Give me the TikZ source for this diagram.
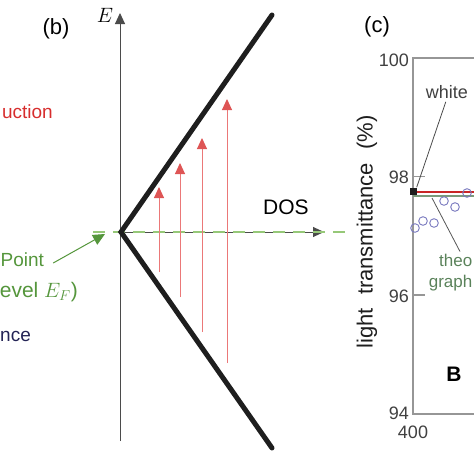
\documentclass[tikz,border=0pt]{standalone}
\usepackage{fontspec}
\setmainfont{Liberation Sans}
\usetikzlibrary{arrows.meta,positioning,calc}
\definecolor{ink}{RGB}{30,30,30}
\definecolor{cband}{RGB}{215,45,45}
\definecolor{vband}{RGB}{35,35,85}
\definecolor{fermiG}{RGB}{85,150,60}
\definecolor{fermiL}{RGB}{150,200,120}
\definecolor{exc}{RGB}{235,120,120}
\definecolor{excH}{RGB}{222,85,85}
\definecolor{frame}{RGB}{150,150,150}
\definecolor{theoG}{RGB}{90,130,90}
\definecolor{dotB}{RGB}{120,120,190}
\tikzset{
  lbl/.style={inner sep=0pt,font=\fontsize{19}{22}\selectfont},
  tick/.style={inner sep=0pt,anchor=east,text=ink!85,font=\fontsize{18}{20}\selectfont},
  cone/.style={line width=5pt,draw=ink,line cap=round},
  axis/.style={draw=ink!80,line width=0.9pt,-{Triangle[length=11pt,width=10pt]}},
  excite/.style={draw=exc,line width=1pt,-{Triangle[length=11pt,width=10pt,color=excH]}},
  fermi/.style={draw=fermiL,line width=1.6pt,dash pattern=on 12pt off 8pt},
  box/.style={draw=frame,line width=1.2pt},
}
\begin{document}
\begin{tikzpicture}[x=1pt,y=-1pt]
\useasboundingbox (0,0) rectangle (474,474);
% panel (b): Dirac cone
\coordinate (dirac) at (121,232);
\coordinate (cup) at (272,15);
\coordinate (cdn) at (272,448);
\coordinate (ebot) at (120,441);
\coordinate (etop) at (120,13);
\coordinate (dosend) at (324,232);
\coordinate (fl) at (93,232);
\coordinate (fr) at (350,232);
\draw[axis] (ebot) -- (etop);
\draw[axis] (dirac) -- (dosend);
\draw[fermi] (fl) -- (fr);
\draw[cone] (cup) -- (dirac) -- (cdn);
\foreach \i/\x/\lo/\hi in {1/159/272/187, 2/180/297/163, 3/202/332/138, 4/227/363/99}{
  \coordinate (lo\i) at (\x,\lo);
  \coordinate (hi\i) at (\x,\hi);
  \draw[excite] (lo\i) -- (hi\i);
}
\node[inner sep=0pt,font=\fontsize{20}{22}\selectfont] (elbl) at (105,15) {$E$};
\node[lbl,font=\fontsize{21}{24}\selectfont] (doslbl) at (286,207) {DOS};
\node[lbl,font=\fontsize{22}{24}\selectfont] (blbl) at (56,29) {(b)};
% cut-off band labels
\node[lbl,anchor=east,text=cband] (condlbl) at (53,112) {uction};
\node[lbl,anchor=west,text=fermiG] (ptlbl) at (0.5,260) {Point};
\node[lbl,anchor=east,text=fermiG,font=\fontsize{21}{22}\selectfont] (evlbl) at (78,292) {evel $E_F$)};
\node[lbl,anchor=west,text=vband] (vallbl) at (0,336) {nce};
\coordinate (ftip) at (105,234);
\draw[fermiG,line width=1pt,-{Triangle[length=12pt,width=11pt]}] ([xshift=9pt,yshift=-3pt]ptlbl.east) -- (ftip);
% panel (c): transmittance
\node[lbl,font=\fontsize{22}{24}\selectfont] (clbl) at (377,27) {(c)};
\coordinate (ptl) at (413,58);
\coordinate (pbl) at (413,414);
\draw[box] (474,58) -- (ptl) -- (pbl) -- (474,414);
\draw[box] (413,176.7) -- (425,176.7);
\draw[box] (413,295) -- (425,295);
\node[tick] (t100) at (409,60) {100};
\node[tick] (t98) at (409,177) {98};
\node[tick] (t96) at (409,296) {96};
\node[tick] (t94) at (409,413) {94};
\node[tick,anchor=center] (t400) at (413,432) {400};
\node[inner sep=0pt,rotate=90,text=ink,font=\fontsize{22}{24}\selectfont] (ylbl) at (367,232)
  {light\hspace{0.6em}transmittance\hspace{0.6em}(\%)};
\draw[red!75!black!85,line width=1.1pt] (413,192) -- (474,192);
\draw[theoG!80,line width=1.1pt] (413,196) -- (474,196);
\foreach \x/\y in {467/193, 444/201, 455/207, 423/221, 434/223, 415/228}
  \draw[dotB,line width=0.9pt] (\x,\y) circle (4.3pt);
\node[fill=ink,minimum size=7pt,inner sep=0pt] (wmark) at (413,191) {};
\node[lbl,text=ink!85,font=\fontsize{18}{20}\selectfont] (wlbl) at (447,92) {white};
\draw[ink!80,line width=0.8pt] (wmark.north east) -- ([xshift=20pt,yshift=-3pt]wlbl.south west);
\node[lbl,anchor=east,text=theoG,font=\fontsize{17}{20}\selectfont] (thlbl) at (472.5,260) {theo};
\node[lbl,anchor=east,text=theoG,font=\fontsize{17}{20}\selectfont] (grlbl) at (472.5,283) {graph};
\coordinate (thfoot) at (432,198);
\draw[ink!75,line width=0.8pt] (thfoot) -- ([xshift=21pt,yshift=2pt]thlbl.north west);
\node[lbl,font=\bfseries\fontsize{21}{24}\selectfont] (blab) at (454,374) {B};
\end{tikzpicture}
\end{document}
